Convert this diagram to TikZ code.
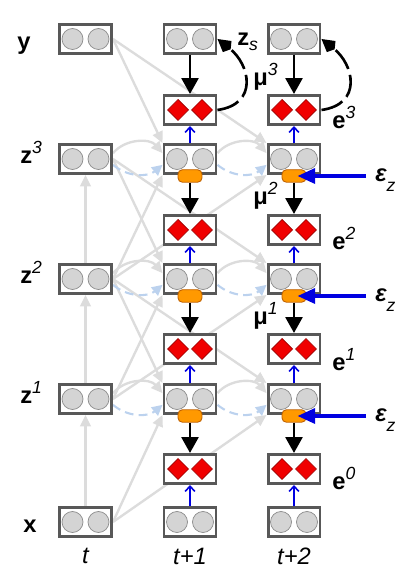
\documentclass[tikz,border=0pt]{standalone}
\usepackage{fontspec}
\setmainfont{Liberation Sans}
\usepackage{tikz}
\usetikzlibrary{arrows.meta,backgrounds}
\usepackage{xcolor}
\definecolor{boxgray}{RGB}{88,88,88}
\definecolor{cellgray}{RGB}{212,212,212}
\definecolor{linkgray}{RGB}{220,220,220}
\definecolor{linkblue}{RGB}{188,210,238}
\definecolor{diamred}{RGB}{240,0,0}
\definecolor{pillorange}{RGB}{255,153,0}
\definecolor{darkblue}{RGB}{0,0,225}

\newcommand{\upidx}[1]{\raisebox{6pt}{\fontsize{10}{12}\selectfont\mdseries\itshape #1}}
\newcommand{\downidx}[2]{\raisebox{-#1}{\fontsize{10}{12}\selectfont\mdseries\itshape #2}}

\tikzset{
  cellbox/.style={draw=boxgray, line width=1.7pt, fill=white,
    minimum width=1.04cm, minimum height=0.58cm, inner sep=0pt},
  circbox/.style={cellbox, path picture={
    \draw[black!45, line width=0.4pt, fill=cellgray]
      ([xshift=-0.26cm]path picture bounding box.center) circle (0.21cm)
      ([xshift=0.26cm]path picture bounding box.center) circle (0.21cm);}},
  diambox/.style={cellbox, path picture={
    \draw[red!60!black, line width=0.4pt, fill=diamred]
      ([xshift=-0.24cm]path picture bounding box.center) +(0,0.21cm) -- +(0.21cm,0) -- +(0,-0.21cm) -- +(-0.21cm,0) -- cycle
      ([xshift=0.24cm]path picture bounding box.center) +(0,0.21cm) -- +(0.21cm,0) -- +(0,-0.21cm) -- +(-0.21cm,0) -- cycle;}},
  pill/.style={draw=orange!75!black, fill=pillorange, line width=0.5pt,
    rounded corners=2.5pt, minimum width=0.48cm, minimum height=0.25cm, inner sep=0pt},
  varlabel/.style={font=\fontsize{13.5}{16}\selectfont\bfseries, inner sep=0pt, anchor=base west},
  timelabel/.style={font=\fontsize{13.5}{16}\selectfont\itshape, inner sep=0pt},
  mainflow/.style={line width=1.7pt, -{Triangle[length=9pt,width=9.5pt]}},
  bluelink/.style={darkblue, line width=0.9pt, -{Straight Barb[length=3pt,width=5.5pt]}},
  noisearrow/.style={darkblue, line width=2pt, shorten >=2pt, -{Triangle[length=10pt,width=8.5pt]}},
  fbarrow/.style={line width=1.5pt, dash pattern=on 13pt off 3.5pt, -{Kite[length=9.5pt,width=8pt,inset=2.5pt]}},
  graylink/.style={draw=linkgray, line width=1.35pt, -{Triangle[length=6.5pt,width=6pt]}},
  graydash/.style={draw=linkblue, line width=1.2pt, dash pattern=on 5pt off 3pt, -{Triangle[length=6pt,width=6pt]}}
}

\begin{document}
\begin{tikzpicture}[x=0.02cm, y=0.02cm]
  \useasboundingbox (0,0) rectangle (405,572);

  % --- column t ---
  \node[circbox] (yA) at (85.5,533) {};
  \node[circbox] (z3A) at (85.5,413) {};
  \node[circbox] (z2A) at (85.5,293) {};
  \node[circbox] (z1A) at (85.5,173) {};
  \node[circbox] (xA) at (85.5,50) {};

  % --- column t+1 ---
  \node[circbox] (yB) at (190,533) {};
  \node[diambox] (e3B) at (190,462) {};
  \node[circbox] (z3B) at (190,413) {};
  \node[diambox] (e2B) at (190,342) {};
  \node[circbox] (z2B) at (190,293) {};
  \node[diambox] (e1B) at (190,223) {};
  \node[circbox] (z1B) at (190,173) {};
  \node[diambox] (e0B) at (190,103) {};
  \node[circbox] (xB) at (190,50) {};
  \node[pill] (p3B) at (190,396) {};
  \node[pill] (p2B) at (190,276) {};
  \node[pill] (p1B) at (190,156) {};

  % --- column t+2 ---
  \node[circbox] (yC) at (294,533) {};
  \node[diambox] (e3C) at (294,462) {};
  \node[circbox] (z3C) at (294,413) {};
  \node[diambox] (e2C) at (294,342) {};
  \node[circbox] (z2C) at (294,293) {};
  \node[diambox] (e1C) at (294,223) {};
  \node[circbox] (z1C) at (294,173) {};
  \node[diambox] (e0C) at (294,103) {};
  \node[circbox] (xC) at (294,50) {};
  \node[pill] (p3C) at (294,396) {};
  \node[pill] (p2C) at (294,276) {};
  \node[pill] (p1C) at (294,156) {};

  % top-down path
  \draw[mainflow] (yB) -- (e3B);
  \draw[mainflow] (p3B) -- (e2B);
  \draw[mainflow] (p2B) -- (e1B);
  \draw[mainflow] (p1B) -- (e0B);
  \draw[mainflow] (yC) -- (e3C);
  \draw[mainflow] (p3C) -- (e2C);
  \draw[mainflow] (p2C) -- (e1C);
  \draw[mainflow] (p1C) -- (e0C);

  % bottom-up path
  \draw[bluelink] (z3B) -- (e3B);
  \draw[bluelink] (z2B) -- (e2B);
  \draw[bluelink] (z1B) -- (e1B);
  \draw[bluelink] (xB) -- (e0B);
  \draw[bluelink] (z3C) -- (e3C);
  \draw[bluelink] (z2C) -- (e2C);
  \draw[bluelink] (z1C) -- (e1C);
  \draw[bluelink] (xC) -- (e0C);

  % feedback from the top
  \draw[fbarrow] (e3B.east) to[out=8, in=-38, looseness=1.5] (yB.east);
  \draw[fbarrow] (e3C.east) to[out=8, in=-38, looseness=1.5] (yC.east);

  % noise
  \coordinate (n3) at (366,396);
  \coordinate (n2) at (366,276);
  \coordinate (n1) at (366,156);
  \draw[noisearrow] (n3) -- (p3C.center);
  \draw[noisearrow] (n2) -- (p2C.center);
  \draw[noisearrow] (n1) -- (p1C.center);

  % labels
  \node[varlabel] (ly) at (17,522) {y};
  \node[varlabel] (lz3) at (20,408) {z\upidx{3}};
  \node[varlabel] (lz2) at (20,288) {z\upidx{2}};
  \node[varlabel] (lz1) at (20,168) {z\upidx{1}};
  \node[varlabel] (lx) at (23,39) {x};
  \node[timelabel] (tA) at (85.5,16) {t};
  \node[timelabel] (tB) at (190,16) {t+1};
  \node[timelabel] (tC) at (294,16) {t+2};
  \node[varlabel] (lzs) at (237,526) {z\downidx{2.3pt}{s}};
  \node[varlabel] (lmu3) at (253,486) {μ\upidx{3}};
  \node[varlabel] (lmu2) at (253,367) {μ\upidx{2}};
  \node[varlabel] (lmu1) at (253,247) {μ\upidx{1}};
  \node[varlabel] (le3) at (332,443) {e\upidx{3}};
  \node[varlabel] (le2) at (332,322) {e\upidx{2}};
  \node[varlabel] (le1) at (332,201) {e\upidx{1}};
  \node[varlabel] (le0) at (332,82) {e\upidx{0}};
  \node[varlabel] (leps3) at (375,390) {\itshape ε\downidx{5.5pt}{z}};
  \node[varlabel] (leps2) at (375,270) {\itshape ε\downidx{5.5pt}{z}};
  \node[varlabel] (leps1) at (375,150) {\itshape ε\downidx{5.5pt}{z}};

  % --- light links behind the boxes ---
  \begin{scope}[on background layer]
    \draw[graylink] (xA) -- (z1A);
    \draw[graylink] (z1A) -- (z2A);
    \draw[graylink] (z2A) -- (z3A);
    % t -> t+1
    \draw[graylink] (yA.east) -- (z3B.north west);
    \draw[graylink] (z3A.east) -- (z2B.north west);
    \draw[graylink] (z2A.east) -- (z1B.north west);
    \draw[graylink] (xA.east) -- (z1B.south west);
    \draw[graylink] (z1A.east) -- (z2B.south west);
    \draw[graylink] (z2A.east) -- (z3B.south west);
    % t -> t+2
    \draw[graylink] (yA.east) -- (z3C.north west);
    \draw[graylink] (z3A.east) -- (z2C.north west);
    \draw[graylink] (z2A.east) -- (z1C.north west);
    \draw[graylink] (xA.east) -- (z1C.south west);
    \draw[graylink] (z1A.east) -- (z2C.south west);
    \draw[graylink] (z2A.east) -- (z3C.south west);
    % same layer
    \draw[graylink] (z3A.12) to[bend left=50] (z3B.168);
    \draw[graylink] (z2A.12) to[bend left=50] (z2B.168);
    \draw[graylink] (z1A.12) to[bend left=50] (z1B.168);
    \draw[graylink] (z3B.12) to[bend left=50] (z3C.168);
    \draw[graylink] (z2B.12) to[bend left=50] (z2C.168);
    \draw[graylink] (z1B.12) to[bend left=50] (z1C.168);
    \draw[graydash] (z3A.-12) to[bend right=40] (z3B.-168);
    \draw[graydash] (z2A.-12) to[bend right=40] (z2B.-168);
    \draw[graydash] (z1A.-12) to[bend right=40] (z1B.-168);
    \draw[graydash] (z3B.-12) to[bend right=40] (z3C.-168);
    \draw[graydash] (z2B.-12) to[bend right=40] (z2C.-168);
    \draw[graydash] (z1B.-12) to[bend right=40] (z1C.-168);
  \end{scope}
\end{tikzpicture}
\end{document}
